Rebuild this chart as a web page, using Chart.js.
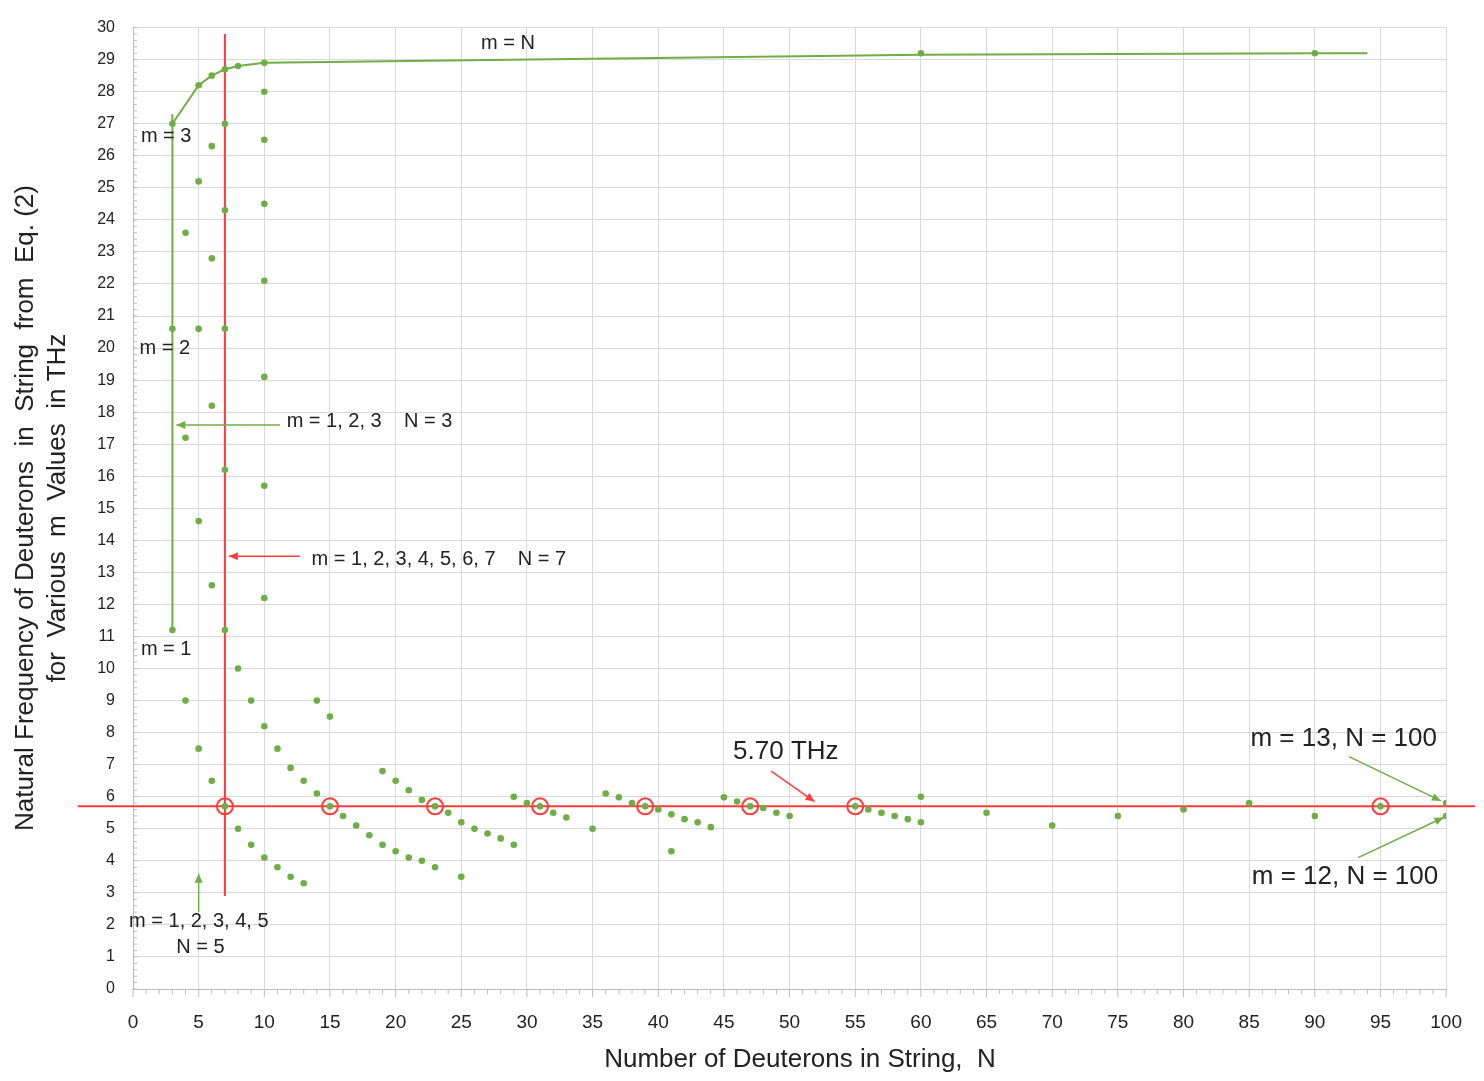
<!DOCTYPE html>
<html><head><meta charset="utf-8">
<script src="https://cdn.jsdelivr.net/npm/chart.js@4"></script>
<style>html,body{margin:0;padding:0;background:#fff}#w{width:1484px;height:1081px}</style>
</head><body><div id="w"><canvas id="c"></canvas></div>
<script>
// Scatter points: [N, frequency]
const pointsN = [3,3,3, 4,4,4, 5,5,5,5,5, 6,6,6,6,6,6, 7,7,7,7,7,7,7, 8,8,8, 9,9,
 10,10,10,10,10,10,10,10,10,10, 11,11, 12,12, 13,13, 14,14, 15,15, 16,17,18, 19,19, 20,20, 21,21, 22,22, 23,23, 24, 25,25, 26,27,28, 29,29, 30,31,32,33, 35, 36,37,38,39,40, 41,41, 42,43,44, 45,46,47,48,49,50, 55,56,57,58,59, 60,60,60, 65,70,75,80,85, 90,90, 95, 100,100];
const pointsF = [27.0,20.6,11.2, 23.6,17.2,9.0, 28.2,25.2,20.6,14.6,7.5, 28.5,26.3,22.8,18.2,12.6,6.5, 28.7,27.0,24.3,20.6,16.2,11.2,5.7, 28.8,10.0,5.0, 9.0,4.5,
 28.9,28.0,26.5,24.5,22.1,19.1,15.7,12.2,8.2,4.1, 7.5,3.8, 6.9,3.5, 6.5,3.3, 9.0,6.1, 8.5,5.7, 5.4,5.1,4.8, 6.8,4.5, 6.5,4.3, 6.2,4.1, 5.9,4.0, 5.7,3.8, 5.5, 5.2,3.5, 5.0,4.85,4.7, 6.0,4.5, 5.8,5.7,5.5,5.35, 5.0, 6.1,5.98,5.8,5.7,5.6, 5.45,4.3, 5.3,5.2,5.05, 5.98,5.85,5.7,5.65,5.5,5.4, 5.7,5.6,5.5,5.4,5.3, 5.2,6.0,29.2, 5.5,5.1,5.4,5.6,5.8, 5.4,29.2, 5.7, 5.8,5.4];
// m = N curve
const curveN = [3,5,6,7,8,10,60,90,94];
const curveF = [27.0,28.2,28.5,28.7,28.8,28.9,29.15,29.2,29.2];
// 5.70 THz matches
const circleN = [7,15,23,31,39,47,55,95];
const circleF = [5.7,5.7,5.7,5.7,5.7,5.7,5.7,5.7];
const xTicks = [0,5,10,15,20,25,30,35,40,45,50,55,60,65,70,75,80,85,90,95,100];
const yTicks = [0,1,2,3,4,5,6,7,8,9,10,11,12,13,14,15,16,17,18,19,20,21,22,23,24,25,26,27,28,29,30];

const GREEN='#70ad47', RED='#ff3b3b';
const pts = pointsN.map((n,i)=>({x:n,y:pointsF[i]}));
const curve = curveN.map((n,i)=>({x:n,y:curveF[i]}));
const circ = circleN.map((n,i)=>({x:n,y:circleF[i]}));

function arrow(ctx,x1,y1,x2,y2,col){
  ctx.strokeStyle=col;ctx.fillStyle=col;ctx.lineWidth=1.5;
  ctx.beginPath();ctx.moveTo(x1,y1);ctx.lineTo(x2,y2);ctx.stroke();
  const a=Math.atan2(y2-y1,x2-x1),L=9,W=4;
  ctx.beginPath();ctx.moveTo(x2,y2);
  ctx.lineTo(x2-L*Math.cos(a)+W*Math.sin(a),y2-L*Math.sin(a)-W*Math.cos(a));
  ctx.lineTo(x2-L*Math.cos(a)-W*Math.sin(a),y2-L*Math.sin(a)+W*Math.cos(a));
  ctx.closePath();ctx.fill();
}
const deco={id:'deco',
 beforeDatasetsDraw(ch){
  const c=ch.ctx,X=ch.scales.x,Y=ch.scales.y,a=ch.chartArea;
  const px=v=>X.getPixelForValue(v),py=v=>Y.getPixelForValue(v);
  c.save();
  c.strokeStyle='#bbb';c.lineWidth=1;
  for(let v=0;v<=100;v++){c.beginPath();c.moveTo(px(v),a.bottom);c.lineTo(px(v),a.bottom+(v%5?5:8));c.stroke();}
  for(let v=0;v<=30;v+=0.2){c.beginPath();c.moveTo(a.left,py(v));c.lineTo(a.left+4,py(v));c.stroke();}
  c.strokeStyle=RED;c.lineWidth=2;
  c.beginPath();c.moveTo(78,py(5.7));c.lineTo(1475,py(5.7));c.stroke();
  c.beginPath();c.moveTo(px(7),py(2.9));c.lineTo(px(7),py(29.8));c.stroke();
  c.strokeStyle=GREEN;c.lineWidth=2;
  c.beginPath();c.moveTo(px(3),py(11.2));c.lineTo(px(3),py(27.3));c.stroke();
  arrow(c,px(11.2),py(17.6),px(3.3),py(17.6),GREEN);
  arrow(c,px(5),py(2.4),px(5),py(3.6),GREEN);
  arrow(c,px(92.6),py(7.25),px(99.6),py(5.87),GREEN);
  arrow(c,px(93.3),py(4.1),px(99.8),py(5.35),GREEN);
  arrow(c,px(12.7),py(13.5),px(7.3),py(13.5),RED);
  arrow(c,px(48.6),py(6.8),px(51.9),py(5.85),RED);
  c.fillStyle='#222';c.font='20px "Liberation Sans", Arial';c.textBaseline='middle';c.textAlign='left';
  const T=(s,x,y)=>c.fillText(s,px(x),py(y));
  T('m = N',26.5,29.5);T('m = 3',0.6,26.6);T('m = 2',0.5,20.0);T('m = 1',0.6,10.6);
  T('m = 1, 2, 3    N = 3',11.7,17.7);T('m = 1, 2, 3, 4, 5, 6, 7    N = 7',13.6,13.4);
  T('m = 1, 2, 3, 4, 5',-0.3,2.1);T('N = 5',3.3,1.3);
  c.font='26px "Liberation Sans", Arial';
  T('5.70 THz',45.7,7.4);T('m = 13, N = 100',85.1,7.8);T('m = 12, N = 100',85.2,3.5);
  c.font='26px "Liberation Sans", Arial';c.textAlign='center';
  c.fillText('Number of Deuterons in String,  N',800,1060);
  c.save();c.translate(26,508);c.rotate(-Math.PI/2);
  c.fillText('Natural Frequency of Deuterons  in  String  from  Eq. (2)',0,0);
  c.fillText('for  Various  m  Values  in THz',0,32);c.restore();
  c.restore();
 }};

new Chart(document.getElementById('c'),{
 type:'scatter',
 data:{datasets:[
  {data:circ,pointRadius:8,pointBorderColor:RED,pointBorderWidth:2,pointBackgroundColor:'rgba(0,0,0,0)',showLine:false},
  {data:curve,showLine:true,borderColor:GREEN,borderWidth:2,pointRadius:0},
  {data:pts,pointRadius:3.3,pointBackgroundColor:GREEN,pointBorderWidth:0,showLine:false}
 ]},
 options:{responsive:true,maintainAspectRatio:false,animation:false,
  layout:{padding:{top:-11,right:0,left:0,bottom:0}},
  plugins:{legend:{display:false},tooltip:{enabled:false}},
  scales:{
   x:{type:'linear',min:0,max:100,afterFit:s=>{s.height=92;},
      afterBuildTicks:s=>{s.ticks=xTicks.map(v=>({value:v}));},
      grid:{color:'#d9d9d9',drawTicks:false},border:{color:'#bbb'},
      ticks:{padding:22,color:'#222',font:{size:19,family:'"Liberation Sans", Arial'}}},
   y:{type:'linear',min:0,max:30,afterFit:s=>{s.width=133;},
      afterBuildTicks:s=>{s.ticks=yTicks.map(v=>({value:v}));},
      grid:{color:'#d9d9d9',drawTicks:false},border:{color:'#bbb'},
      ticks:{padding:18,color:'#222',font:{size:16,family:'"Liberation Sans", Arial'}}}
  }},
 plugins:[deco]
});
</script></body></html>
